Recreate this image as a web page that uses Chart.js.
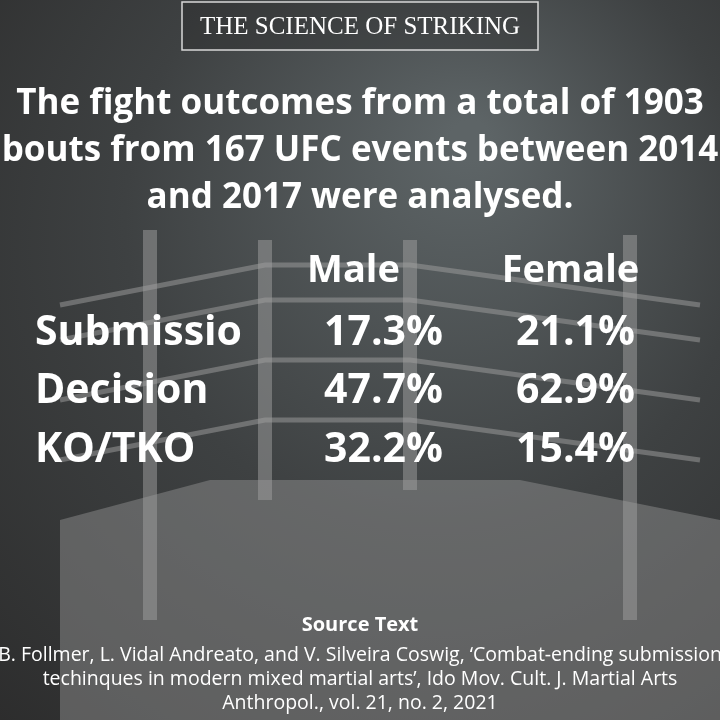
<!DOCTYPE html>
<html><head><meta charset="utf-8">
<script src="https://cdn.jsdelivr.net/npm/chart.js@4"></script>
<style>html,body{margin:0;padding:0;background:#3a3a3a}#w{width:720px;height:720px}</style>
</head><body><div id="w"><canvas id="c"></canvas></div>
<script>
const columns = ['Male', 'Female'];
const outcomes = ['Submission', 'Decision', 'KO/TKO'];
const maleValues = [17.3, 47.7, 32.2];
const femaleValues = [21.1, 62.9, 15.4];
const titleLines = ['The fight outcomes from a total of 1903', 'bouts from 167 UFC events between 2014', 'and 2017 were analysed.'];
const headerText = 'THE SCIENCE OF STRIKING';
const sourceHead = 'Source Text';
const sourceLines = ['B. Follmer, L. Vidal Andreato, and V. Silveira Coswig, \u2018Combat-ending submission', 'techinques in modern mixed martial arts\u2019, Ido Mov. Cult. J. Martial Arts', 'Anthropol., vol. 21, no. 2, 2021'];

const points = [];
outcomes.forEach((o,i)=>{points.push({x:'Male',y:o,v:maleValues[i]});points.push({x:'Female',y:o,v:femaleValues[i]});});

const deco = {
  id:'deco',
  beforeDraw(ch){
    const c=ch.ctx; c.save();
    const g=c.createRadialGradient(470,140,20,400,300,600);
    g.addColorStop(0,'#5d6466');g.addColorStop(0.5,'#3e4142');g.addColorStop(1,'#2c2c2c');
    c.fillStyle=g;c.fillRect(0,0,720,720);
    c.fillStyle='rgba(150,150,150,0.45)';
    c.beginPath();c.moveTo(60,520);c.lineTo(210,480);c.lineTo(520,480);c.lineTo(720,520);c.lineTo(720,720);c.lineTo(60,720);c.closePath();c.fill();
    c.strokeStyle='rgba(160,160,160,0.5)';c.lineWidth=14;
    [[150,230,150,620],[265,240,265,500],[410,240,410,490],[630,235,630,620]].forEach(l=>{c.beginPath();c.moveTo(l[0],l[1]);c.lineTo(l[2],l[3]);c.stroke();});
    c.lineWidth=5;
    [265,300,360,420].forEach(y=>{c.beginPath();c.moveTo(60,y+40);c.lineTo(265,y);c.lineTo(410,y);c.lineTo(700,y+40);c.stroke();});
    c.restore();
  },
  afterDraw(ch){
    const c=ch.ctx; c.save();
    c.fillStyle='rgba(40,40,40,0.35)';c.fillRect(182,2,356,48);
    c.strokeStyle='#d8d8d8';c.lineWidth=1.5;c.strokeRect(182,2,356,48);
    c.fillStyle='#ffffff';c.textAlign='center';c.textBaseline='middle';
    c.font='25px "Liberation Serif"';c.fillText(headerText,360,27);
    c.font='bold 35px "Open Sans"';
    titleLines.forEach((t,i)=>c.fillText(t,360,104+i*47));
    const xs=ch.scales.x, ys=ch.scales.y;
    c.font='bold 41px "Open Sans"';
    outcomes.forEach((o,i)=>{
      const y=ys.getPixelForValue(i);
      c.fillText(maleValues[i].toFixed(1)+'%',xs.getPixelForValue(0)+30,y);
      c.fillText(femaleValues[i].toFixed(1)+'%',xs.getPixelForValue(1)+5,y);
    });
    c.font='bold 20px "Open Sans"';c.fillText(sourceHead,360,625);
    c.font='19.5px "Open Sans"';
    sourceLines.forEach((t,i)=>c.fillText(t,360,655+i*24));
    c.restore();
  }
};

new Chart(document.getElementById('c'),{
  type:'scatter',
  data:{datasets:[{data:points,pointRadius:0,pointHoverRadius:0}]},
  options:{
    responsive:true,maintainAspectRatio:false,animation:false,
    layout:{padding:{top:246,bottom:240,left:35,right:41}},
    plugins:{legend:{display:false},tooltip:{enabled:false}},
    scales:{
      x:{type:'category',labels:columns,position:'top',offset:true,grid:{display:false},border:{display:false},
         ticks:{color:'#ffffff',font:{family:'Open Sans',size:38,weight:'bold'},padding:2}},
      y:{type:'category',labels:outcomes,offset:true,grid:{display:false},border:{display:false},
         afterFit(s){s.width=210;},
         ticks:{color:'#ffffff',crossAlign:'far',font:{family:'Open Sans',size:41,weight:'bold'},padding:0}}
    }
  },
  plugins:[deco]
});
</script></body></html>
